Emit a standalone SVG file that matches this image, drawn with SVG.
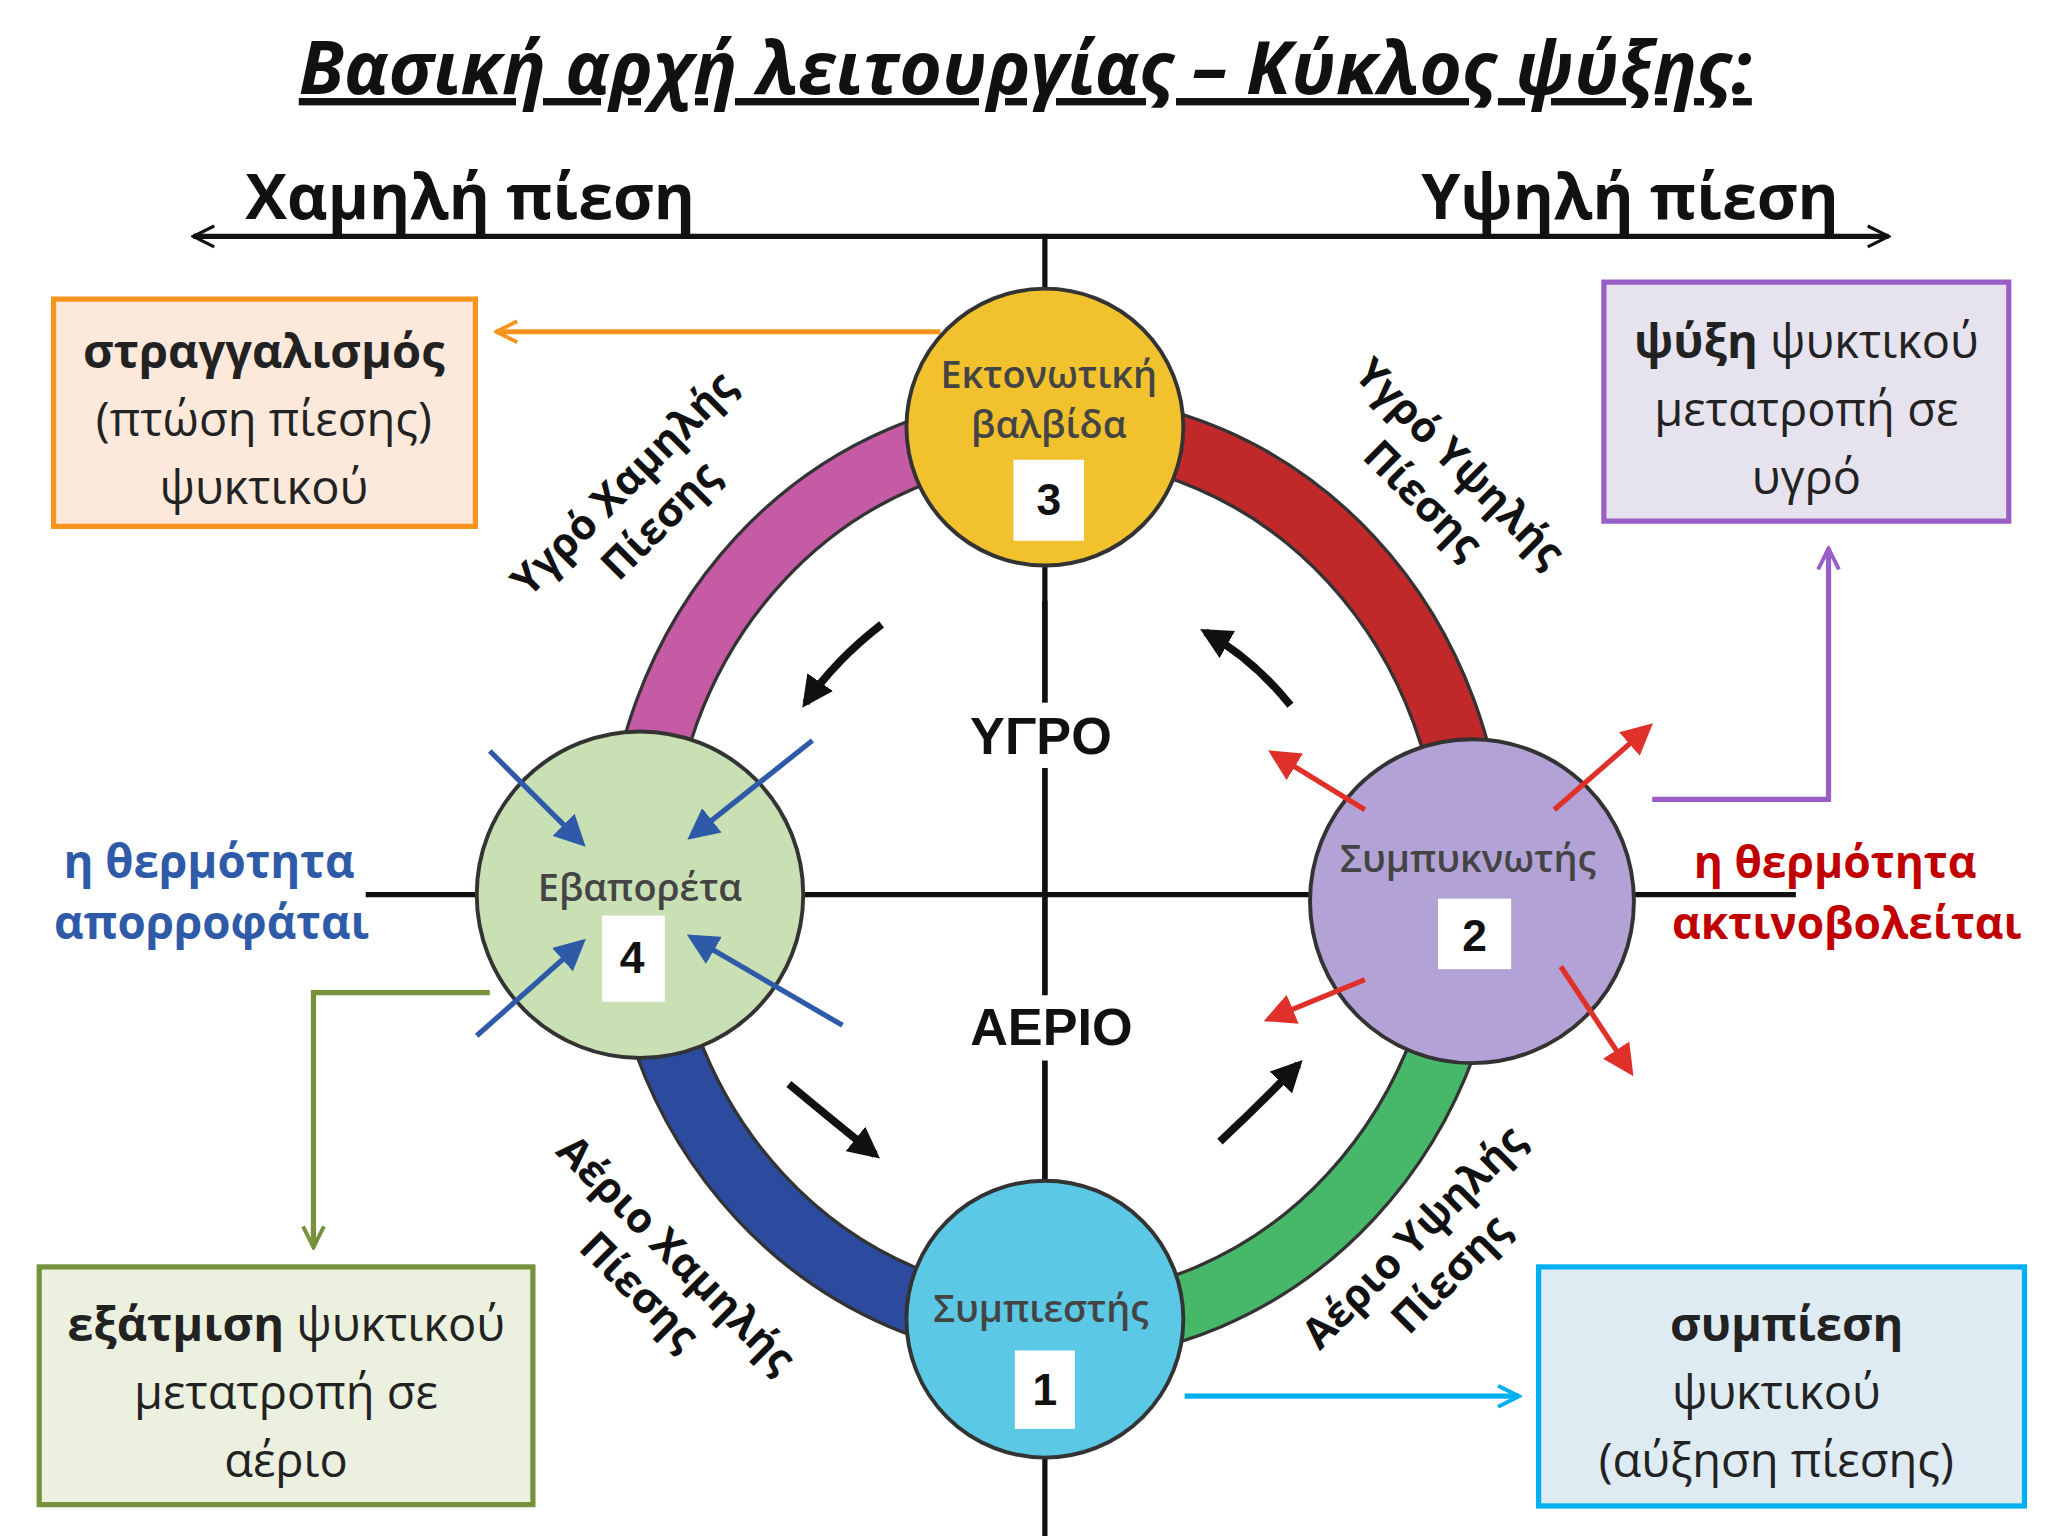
<svg xmlns="http://www.w3.org/2000/svg" width="2048" height="1536" viewBox="0 0 2048 1536">
<style>
text{font-family:"Open Sans","DejaVu Sans",sans-serif}
.b{font-weight:bold}
.bx{font-size:36px;fill:#222;text-anchor:middle}
.nd{font-size:29px;fill:#444;text-anchor:middle;font-weight:600}
.num{font-size:34px;font-weight:bold;text-anchor:middle;fill:#111;font-family:"Liberation Sans",sans-serif}
.rl{font-size:32px;font-weight:bold;fill:#111;text-anchor:middle}
.ln{stroke:#111;stroke-width:4;fill:none}
</style>
<defs>
<marker id="oO" viewBox="0 0 20 20" refX="18" refY="10" markerWidth="20" markerHeight="20" orient="auto" markerUnits="userSpaceOnUse"><path d="M2,2 L18,10 L2,18" fill="none" stroke="#f7941d" stroke-width="3"/></marker>
<marker id="oP" viewBox="0 0 20 20" refX="18" refY="10" markerWidth="20" markerHeight="20" orient="auto" markerUnits="userSpaceOnUse"><path d="M2,2 L18,10 L2,18" fill="none" stroke="#9a5fc7" stroke-width="3"/></marker>
<marker id="oG" viewBox="0 0 20 20" refX="18" refY="10" markerWidth="20" markerHeight="20" orient="auto" markerUnits="userSpaceOnUse"><path d="M2,2 L18,10 L2,18" fill="none" stroke="#76923c" stroke-width="3"/></marker>
<marker id="oC" viewBox="0 0 20 20" refX="18" refY="10" markerWidth="20" markerHeight="20" orient="auto" markerUnits="userSpaceOnUse"><path d="M2,2 L18,10 L2,18" fill="none" stroke="#00b0f0" stroke-width="3"/></marker>
<marker id="oa2" viewBox="0 0 20 20" refX="18" refY="10" markerWidth="20" markerHeight="20" orient="auto-start-reverse" markerUnits="userSpaceOnUse"><path d="M2,2 L18,10 L2,18" fill="none" stroke="#111" stroke-width="2.5"/></marker>
<marker id="fb" viewBox="0 0 10 10" refX="8" refY="5" markerWidth="4" markerHeight="4" orient="auto"><path d="M0,0 L10,5 L0,10 Z" fill="#111"/></marker>
<marker id="fbl" viewBox="0 0 10 10" refX="8" refY="5" markerWidth="6" markerHeight="6" orient="auto"><path d="M0,0 L10,5 L0,10 Z" fill="#2e5aa8"/></marker>
<marker id="fr" viewBox="0 0 10 10" refX="8" refY="5" markerWidth="6" markerHeight="6" orient="auto"><path d="M0,0 L10,5 L0,10 Z" fill="#e0302a"/></marker>
</defs>
<rect width="2048" height="1536" fill="#fff"/>
<g transform="scale(1.3061)">
<text x="785" y="72" class="b" font-size="56" font-style="italic" text-anchor="middle" text-decoration="underline" fill="#111">Βασική αρχή λειτουργίας – Κύκλος ψύξης:</text>
<text x="360" y="168" class="b" font-size="48" text-anchor="middle" fill="#111">Χαμηλή πίεση</text>
<text x="1248" y="168" class="b" font-size="48" text-anchor="middle" fill="#111">Υψηλή πίεση</text>
<g id="connectors">
<path d="M148,181 L1446,181" stroke="#111" stroke-width="4" marker-start="url(#oa2)" marker-end="url(#oa2)"/>
<path class="ln" d="M800,181 V1176"/>
<path class="ln" d="M280,685 H1375"/>
<ellipse cx="808" cy="672" rx="320" ry="345" fill="none" stroke="#333" stroke-width="52"/>
<path d="M808,327 A320 345 0 0 0 488,672" fill="none" stroke="#c55aa5" stroke-width="47"/>
<path d="M808,327 A320 345 0 0 1 1128,672" fill="none" stroke="#c0282a" stroke-width="47"/>
<path d="M1128,672 A320 345 0 0 1 808,1017" fill="none" stroke="#47b86a" stroke-width="47"/>
<path d="M808,1017 A320 345 0 0 1 488,672" fill="none" stroke="#2c4a9e" stroke-width="47"/>
<path class="ln" d="M800,460 V940"/>
<path d="M675,478 Q640,505 617,538" stroke="#111" stroke-width="6" fill="none" marker-end="url(#fb)"/>
<path d="M988,540 Q960,505 923,484" stroke="#111" stroke-width="6" fill="none" marker-end="url(#fb)"/>
<path d="M604,830 Q640,860 670,884" stroke="#111" stroke-width="6" fill="none" marker-end="url(#fb)"/>
<path d="M934,874 Q965,845 994,815" stroke="#111" stroke-width="6" fill="none" marker-end="url(#fb)"/>
<path d="M720,254 H380" stroke="#f7941d" stroke-width="4" marker-end="url(#oO)"/>
<path d="M1265,612 H1400 V420" stroke="#9a5fc7" stroke-width="4" fill="none" marker-end="url(#oP)"/>
<path d="M375,760 H240 V955" stroke="#76923c" stroke-width="4" fill="none" marker-end="url(#oG)"/>
<path d="M907,1069 H1163" stroke="#00b0f0" stroke-width="4" marker-end="url(#oC)"/>
</g>
<rect x="735" y="538" width="125" height="50" fill="#fff"/>
<rect x="735" y="762" width="140" height="50" fill="#fff"/>
<text x="797" y="577" class="b" font-size="40" text-anchor="middle" fill="#111" style="font-family:'Liberation Sans',sans-serif">ΥΓΡΟ</text>
<text x="805" y="800" class="b" font-size="40" text-anchor="middle" fill="#111" style="font-family:'Liberation Sans',sans-serif">ΑΕΡΙΟ</text>
<g id="n3"><circle cx="800" cy="327" r="106" fill="#f2c12e" stroke="#333" stroke-width="3"/>
<text x="803" y="297" class="nd">Εκτονωτική</text><text x="803" y="335" class="nd">βαλβίδα</text>
<rect x="776" y="352" width="54" height="62" fill="#fff"/><text x="803" y="394" class="num">3</text></g>
<g id="n2"><circle cx="1127" cy="690" r="124" fill="#b3a2d6" stroke="#333" stroke-width="3"/>
<text x="1124" y="668" class="nd">Συμπυκνωτής</text>
<rect x="1101" y="688" width="56" height="54" fill="#fff"/><text x="1129" y="728" class="num">2</text></g>
<g id="n4"><circle cx="490" cy="685" r="125" fill="#c8e0b4" stroke="#333" stroke-width="3"/>
<text x="490" y="690" class="nd">Εβαπορέτα</text>
<rect x="461" y="701" width="48" height="66" fill="#fff"/><text x="484" y="745" class="num">4</text></g>
<g id="n1"><circle cx="800" cy="1010" r="106" fill="#5bc8e6" stroke="#333" stroke-width="3"/>
<text x="797" y="1012" class="nd">Συμπιεστής</text>
<rect x="777" y="1034" width="46" height="60" fill="#fff"/><text x="800" y="1076" class="num">1</text></g>
<g stroke="#2e5aa8" stroke-width="4">
<path d="M375,575 L445,645" marker-end="url(#fbl)"/><path d="M622,567 L530,640" marker-end="url(#fbl)"/>
<path d="M365,793 L445,722" marker-end="url(#fbl)"/><path d="M645,785 L530,718" marker-end="url(#fbl)"/></g>
<g stroke="#e0302a" stroke-width="4">
<path d="M1045,620 L975,577" marker-end="url(#fr)"/><path d="M1190,620 L1262,557" marker-end="url(#fr)"/>
<path d="M1045,750 L972,780" marker-end="url(#fr)"/><path d="M1195,740 L1248,820" marker-end="url(#fr)"/></g>
<g transform="translate(485,378) rotate(-45)"><text class="rl" y="0">Υγρό Χαμηλής</text><text class="rl" y="40">Πίεσης</text></g>
<g transform="translate(1110,362) rotate(45)"><text class="rl" y="0">Υγρό Υψηλής</text><text class="rl" y="40">Πίεσης</text></g>
<g transform="translate(510,968) rotate(45)"><text class="rl" y="0">Αέριο Χαμηλής</text><text class="rl" y="40">Πίεσης</text></g>
<g transform="translate(1090,955) rotate(-45)"><text class="rl" y="0">Αέριο Υψηλής</text><text class="rl" y="40">Πίεσης</text></g>
<g id="box-orange"><rect x="41" y="229" width="323" height="174" fill="#fde9dc" stroke="#f7941d" stroke-width="4"/>
<text x="202" y="282" class="bx b">στραγγαλισμός</text><text x="202" y="334" class="bx">(πτώση πίεσης)</text><text x="202" y="386" class="bx">ψυκτικού</text></g>
<g id="box-purple"><rect x="1228" y="216" width="310" height="183" fill="#e6e2ee" stroke="#9a5fc7" stroke-width="4"/>
<text x="1383" y="274" class="bx"><tspan class="b">ψύξη</tspan> ψυκτικού</text><text x="1383" y="326" class="bx">μετατροπή σε</text><text x="1383" y="378" class="bx">υγρό</text></g>
<g id="box-green"><rect x="30" y="970" width="378" height="182" fill="#ebf1de" stroke="#76923c" stroke-width="4"/>
<text x="219" y="1027" class="bx"><tspan class="b">εξάτμιση</tspan> ψυκτικού</text><text x="219" y="1079" class="bx">μετατροπή σε</text><text x="219" y="1131" class="bx">αέριο</text></g>
<g id="box-cyan"><rect x="1178" y="970" width="372" height="183" fill="#deebf3" stroke="#00b0f0" stroke-width="4"/>
<text x="1368" y="1027" class="bx b">συμπίεση</text><text x="1360" y="1079" class="bx">ψυκτικού</text><text x="1360" y="1131" class="bx">(αύξηση πίεσης)</text></g>
<text x="160" y="672" class="b" font-size="35" text-anchor="middle" fill="#2e5aa8">η θερμότητα</text>
<text x="162" y="719" class="b" font-size="35" text-anchor="middle" fill="#2e5aa8">απορροφάται</text>
<text x="1405" y="672" class="b" font-size="34" text-anchor="middle" fill="#c00000">η θερμότητα</text>
<text x="1414" y="719" class="b" font-size="34" text-anchor="middle" fill="#c00000">ακτινοβολείται</text>
</g>
</svg>
